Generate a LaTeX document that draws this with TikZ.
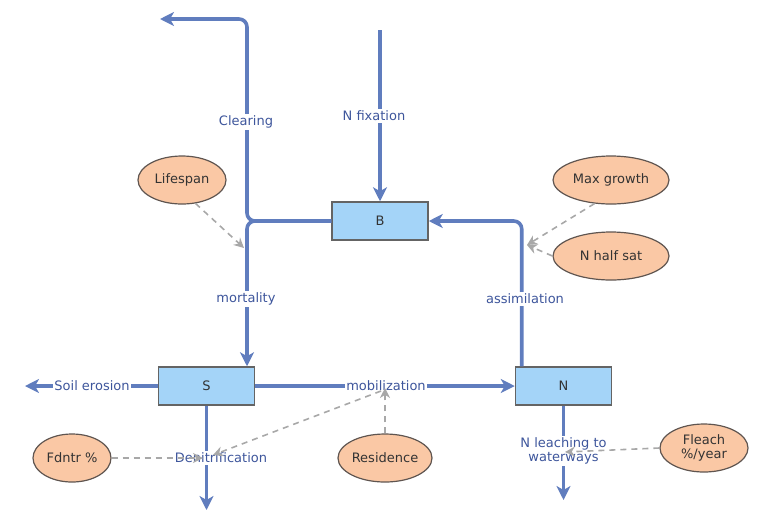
\documentclass[tikz,border=0pt]{standalone}
\usepackage{fontspec}
\setmainfont{DejaVu Sans}
\usepackage{xcolor}
\definecolor{flowblue}{RGB}{96,125,190}
\definecolor{labelblue}{RGB}{62,86,156}
\definecolor{stockfill}{RGB}{164,212,248}
\definecolor{stockline}{RGB}{100,100,100}
\definecolor{auxfill}{RGB}{250,200,165}
\definecolor{auxline}{RGB}{95,85,80}
\definecolor{linkgray}{RGB}{168,168,168}
\usetikzlibrary{arrows.meta,positioning,shapes.geometric,calc}

\begin{document}
\begin{tikzpicture}[x=1pt,y=-1pt,
    every node/.style={font=\fontsize{13}{15}\selectfont},
    stock/.style={draw=stockline,fill=stockfill,line width=1.5pt,
      minimum width=96pt,minimum height=38pt,inner sep=0pt,text=black!80},
    aux/.style={ellipse,draw=auxline,fill=auxfill,line width=1.2pt,
      minimum height=48pt,inner sep=0pt,align=center,text=black!80},
    flow/.style={draw=flowblue,line width=3.6pt,
      -{Stealth[length=14pt,width=14pt,inset=4pt]}},
    flowlabel/.style={fill=white,text=labelblue,inner sep=1.5pt,align=center},
    infolink/.style={draw=linkgray,line width=1.6pt,dash pattern=on 6pt off 5pt,
      -{Stealth[length=10pt,width=10pt]}}]
  \useasboundingbox (0,0) rectangle (762,531);

  %% Stocks
  \node[stock] (B) at (380,221) {B};
  \node[stock] (S) at (206.5,386) {S};
  \node[stock] (N) at (563.5,386) {N};

  %% Auxiliaries
  \node[aux,minimum width=88pt]  (lifespan)  at (182,180) {Lifespan};
  \node[aux,minimum width=116pt] (maxgrowth) at (611,180) {Max growth};
  \node[aux,minimum width=116pt] (halfsat)   at (611,256) {N half sat};
  \node[aux,minimum width=78pt]  (fdntr)     at (72,458)  {Fdntr \%};
  \node[aux,minimum width=88pt]  (residence) at (385,458) {Residence};
  \node[aux,minimum width=88pt,font=\fontsize{13}{14}\selectfont]
        (fleach) at (704,448) {Fleach\\\%/year};

  %% Sources, sinks and turning points
  \coordinate (fork)     at (247,221);
  \coordinate (clrTurn)  at (247,19);
  \coordinate (clrEnd)   at (160,19);
  \coordinate (fixSrc)   at (380,30);
  \coordinate (erosEnd)  at (25,386);
  \coordinate (denEnd)   at (206.5,510);
  \coordinate (leachEnd) at (563.5,500);

  %% Flows
  \draw[flow,rounded corners=8pt] (B.west) -| (clrTurn) -- (clrEnd);
  \draw[flow,rounded corners=8pt] (B.west) -| (S.north -| fork);
  \draw[flow] (fixSrc) -- (B.north);
  \draw[flow,rounded corners=8pt] ($(N.north west)+(7,0)$) |- (B.east);
  \draw[flow] (S.east) -- (N.west);
  \draw[flow] (S.west) -- (erosEnd);
  \draw[flow] (S.south) -- (denEnd);
  \draw[flow] (N.south) -- (leachEnd);

  %% Flow labels
  \node[flowlabel] (clearing)  at (246,122) {Clearing};
  \node[flowlabel] (fixation)  at (374,116) {N fixation};
  \node[flowlabel] (mortality) at (246,299) {mortality};
  \node[flowlabel] (assim)     at (525,299) {assimilation};
  \node[flowlabel] (mobil)     at (386,386) {mobilization};
  \node[flowlabel] (erosion)   at (92,386)  {Soil erosion};
  \node[flowlabel] (denit)     at (221,458) {Denitrification};
  \node[flowlabel,font=\fontsize{13}{14}\selectfont]
        (leach) at (563.5,451) {N leaching to\\waterways};

  %% Information links
  \coordinate (mortIn)  at (244,248);
  \coordinate (assimIn) at (527,245);
  \coordinate (denitIn) at (203,458);
  \coordinate (denitUp) at (213,455);
  \coordinate (mobilIn) at (385,388);
  \coordinate (mobilSrc) at (381,391);
  \coordinate (leachIn) at (565,452);
  \draw[infolink] (lifespan.-60) -- (mortIn);
  \draw[infolink] (maxgrowth.-125) -- (assimIn);
  \draw[infolink] (halfsat.west) -- (assimIn);
  \draw[infolink] (fdntr.east) -- (denitIn);
  \draw[infolink] (residence.north) -- (mobilIn);
  \draw[infolink] (mobilSrc) -- (denitUp);
  \draw[infolink] (fleach.west) -- (leachIn);
\end{tikzpicture}
\end{document}
